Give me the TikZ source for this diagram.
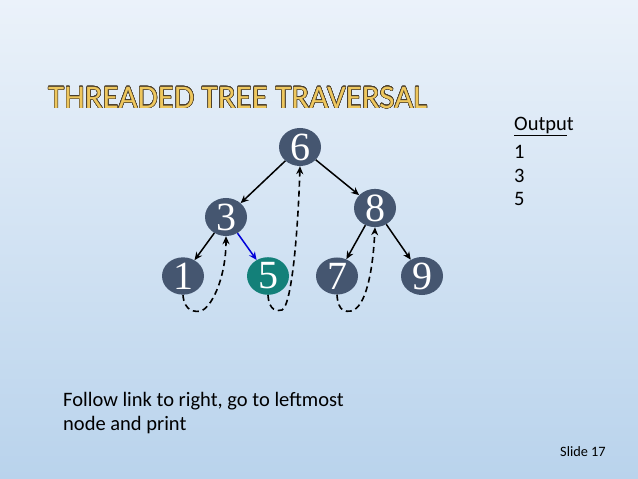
\documentclass[tikz,border=0pt]{standalone}
\usepackage{fontspec}
\setmainfont{Carlito}
\newfontfamily\numfont{Liberation Serif}
\usepackage{contour}
\contourlength{0.5pt}
\contournumber{24}
\usetikzlibrary{arrows.meta,shapes.geometric}
\definecolor{bgtop}{HTML}{EBF2FA}
\definecolor{bgbot}{HTML}{B9D3EC}
\definecolor{nodeblue}{HTML}{455670}
\definecolor{nodeteal}{HTML}{138079}
\definecolor{gold}{HTML}{EEC75E}
\definecolor{outl}{HTML}{4A3E2C}
\tikzset{
  x=1pt,y=-1pt,
  tnode/.style={ellipse,fill=nodeblue,minimum width=42pt,minimum height=36pt,inner sep=0pt,text=white,font=\numfont\fontsize{40}{40}\selectfont},
  edge/.style={-{Stealth[length=8pt,width=7pt]},line width=1.5pt,black},
  thread/.style={-{Stealth[length=8pt,width=7pt]},line width=1.6pt,black,dash pattern=on 6pt off 4pt},
  body/.style={font=\fontsize{20.5}{24}\selectfont,anchor=west,inner sep=0pt,text=black}
}
\begin{document}
\begin{tikzpicture}
\shade[top color=bgtop,bottom color=bgbot] (0,0) rectangle (638,479);
\useasboundingbox (0,0) rectangle (638,479);
\node[anchor=west,inner sep=0pt,font=\fontsize{33}{33}\selectfont] (title) at (48,98) {\contour{outl}{\textcolor{gold}{THREADED TREE TRAVERSAL}}};
% tree nodes
\node[tnode] (n6) at (300,147) {6};
\node[tnode] (n3) at (226,217) {3};
\node[tnode] (n8) at (375,208) {8};
\node[tnode] (n1) at (183,276) {1};
\node[tnode,fill=nodeteal] (n5) at (268,276) {5};
\node[tnode] (n7) at (337,276) {7};
\node[tnode] (n9) at (422,276) {9};
% edges
\draw[edge] (n6) -- (n3);
\draw[edge] (n6) -- (n8);
\draw[edge] (n3) -- (n1);
\draw[edge] (n8) -- (n7);
\draw[edge] (n8) -- (n9);
\draw[edge,blue!85!black] (n3) -- (n5);
% threads
\coordinate (b1) at (200,311);
\coordinate (b5) at (282,310);
\coordinate (b7) at (351,311);
\draw[thread] (n1.south) .. controls (184,312) and (196,312) .. (b1) .. controls (210,310) and (226,280) .. (n3.south);
\draw[thread] (n5.south) .. controls (269,312) and (278,311) .. (b5) .. controls (292,305) and (298,230) .. (n6.south);
\draw[thread] (n7.south) .. controls (338,312) and (346,312) .. (b7) .. controls (366,308) and (373,270) .. (n8.south);
% output
\node[body] (out) at (514,126) {\underline{Outpu}t};
\node[body] (o1) at (514,152) {1};
\node[body] (o3) at (514,176) {3};
\node[body] (o5) at (514,199) {5};
\node[body,align=left,anchor=north west] (desc) at (63,392) {Follow link to right, go to leftmost\\node and print};
\node[body,font=\fontsize{14.3}{14.3}\selectfont] (slide) at (560,452) {Slide 17};
\end{tikzpicture}
\end{document}
